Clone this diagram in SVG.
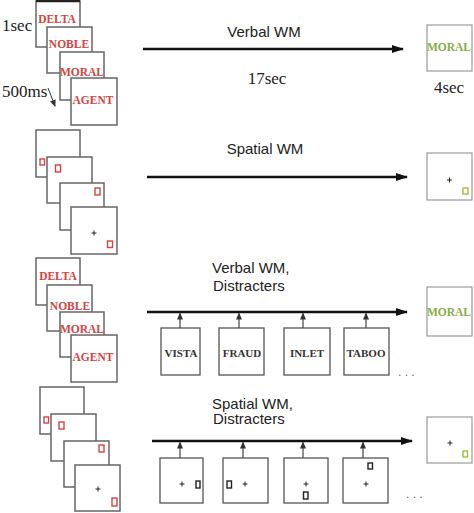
<svg xmlns="http://www.w3.org/2000/svg" width="474" height="513" viewBox="0 0 474 513">
<defs>
<marker id="big" markerWidth="12" markerHeight="10" refX="11" refY="5" orient="auto" markerUnits="userSpaceOnUse">
<path d="M0,1 L12,5 L0,9 Z" fill="#111"/>
</marker>
<marker id="small" markerWidth="7" markerHeight="7" refX="6" refY="3.5" orient="auto" markerUnits="userSpaceOnUse">
<path d="M0,0.5 L7,3.5 L0,6.5 Z" fill="#333"/>
</marker>
</defs>
<style>
.card{fill:#fff;stroke:#666;stroke-width:1.5}
.dcard{fill:#fff;stroke:#555;stroke-width:1.3}
.fcard{fill:#fff;stroke:#999;stroke-width:1.2}
.word{font-family:"Liberation Serif",serif;font-weight:bold;font-size:11.5px;fill:#d2453f;text-anchor:middle}
.dword{font-family:"Liberation Serif",serif;font-weight:bold;font-size:11px;fill:#333;text-anchor:middle}
.gword{font-family:"Liberation Serif",serif;font-weight:bold;font-size:11.5px;fill:#86ad46;text-anchor:middle}
.lab{font-family:"Liberation Sans",Arial,sans-serif;font-size:15px;fill:#222}
.time{font-family:"Liberation Serif",serif;font-size:17px;fill:#222}
.main{stroke:#111;stroke-width:2.6;fill:none;marker-end:url(#big)}
.tick{stroke:#444;stroke-width:1.2;fill:none;marker-end:url(#small)}
.red{fill:none;stroke:#d2453f;stroke-width:1.4}
.grn{fill:none;stroke:#9abf3c;stroke-width:1.4}
.blk{fill:none;stroke:#222;stroke-width:1.4}
.cross{stroke:#222;stroke-width:1;fill:none}
.dots{font-family:"Liberation Sans",sans-serif;font-size:12px;fill:#666}
</style>

<!-- Row 1: verbal WM -->
<g id="row1-stack">
<rect class="card" x="36" y="1" width="44" height="46"/>
<line x1="36" y1="1" x2="80" y2="1" stroke="#222" stroke-width="2.5"/>
<text class="word" x="57" y="23">DELTA</text>
<rect class="card" x="47" y="27" width="45" height="46"/>
<text class="word" x="69" y="48">NOBLE</text>
<rect class="card" x="60" y="52" width="44" height="48"/>
<text class="word" x="82" y="76">MORAL</text>
<rect class="card" x="71" y="78" width="46" height="47"/>
<text class="word" x="93" y="104">AGENT</text>
</g>
<g id="row1-times">
<text class="time" x="2" y="31" font-size="18">1sec</text>
<text class="time" x="2" y="97">500ms</text>
<text class="time" x="267" y="84" text-anchor="middle">17sec</text>
<text class="time" x="449" y="93" text-anchor="middle">4sec</text>
</g>
<g id="row1-final">
<rect class="fcard" x="427" y="25" width="45" height="46"/>
<text class="gword" x="449" y="51">MORAL</text>
</g>

<!-- Row 2: spatial WM -->
<g id="row2-stack">
<rect class="card" x="36" y="130" width="44" height="47"/>
<rect class="red" x="40" y="159" width="4.5" height="6"/>
<rect class="card" x="47" y="157" width="45" height="46"/>
<rect class="red" x="55.5" y="165" width="5" height="7"/>
<rect class="card" x="60" y="183" width="44" height="47"/>
<rect class="red" x="95" y="188" width="5" height="7"/>
<rect class="card" x="71" y="207" width="46" height="47"/>
<path class="cross" d="M91.5,233 H96.5 M94,230.5 V235.5"/>
<rect class="red" x="107.5" y="241" width="5" height="6.5"/>
</g>
<g id="row2-final">
<rect class="fcard" x="427" y="153" width="45" height="47"/>
<path class="cross" d="M447,180 H452 M449.5,177.5 V182.5"/>
<rect class="grn" x="463" y="188" width="5" height="6"/>
</g>

<!-- Row 3: verbal WM distracters -->
<g id="row3-stack">
<rect class="card" x="36" y="258" width="44" height="47"/>
<text class="word" x="58" y="280">DELTA</text>
<rect class="card" x="47" y="285" width="45" height="46"/>
<text class="word" x="70" y="310">NOBLE</text>
<rect class="card" x="60" y="312" width="44" height="45"/>
<text class="word" x="82" y="333">MORAL</text>
<rect class="card" x="71" y="335" width="46" height="47"/>
<text class="word" x="93" y="361">AGENT</text>
</g>
<g id="row3-distracters">
<rect class="dcard" x="161" y="328" width="39" height="47"/>
<text class="dword" x="181" y="357">VISTA</text>
<rect class="dcard" x="219" y="328" width="45" height="47"/>
<text class="dword" x="242" y="357">FRAUD</text>
<rect class="dcard" x="284" y="328" width="46" height="47"/>
<text class="dword" x="307" y="357">INLET</text>
<rect class="dcard" x="344" y="328" width="45" height="47"/>
<text class="dword" x="366" y="357">TABOO</text>
<text class="dots" x="398" y="376">. . .</text>
</g>
<g id="row3-final">
<rect class="fcard" x="427" y="287" width="45" height="49"/>
<text class="gword" x="449" y="316">MORAL</text>
</g>

<!-- Row 4: spatial WM distracters -->
<g id="row4-stack">
<rect class="card" x="40" y="387" width="44" height="47"/>
<rect class="red" x="44" y="417" width="4.5" height="6"/>
<rect class="card" x="51" y="414" width="45" height="47"/>
<rect class="red" x="59" y="422" width="5" height="7"/>
<rect class="card" x="64" y="441" width="45" height="46"/>
<rect class="red" x="99" y="445" width="5" height="7"/>
<rect class="card" x="75" y="465" width="45" height="46"/>
<path class="cross" d="M95.5,489 H100.5 M98,486.5 V491.5"/>
<rect class="red" x="112" y="498" width="5" height="8"/>
</g>
<g id="row4-distracters">
<rect class="dcard" x="160" y="458" width="43" height="45"/>
<path class="cross" d="M179.5,484 H184.5 M182,481.5 V486.5"/>
<rect class="blk" x="196" y="481" width="4" height="7"/>
<rect class="dcard" x="223" y="458" width="45" height="45"/>
<rect class="blk" x="227" y="481" width="4.5" height="7"/>
<path class="cross" d="M242.5,484 H247.5 M245,481.5 V486.5"/>
<rect class="dcard" x="284" y="458" width="44" height="45"/>
<path class="cross" d="M303.5,484 H308.5 M306,481.5 V486.5"/>
<rect class="blk" x="303.5" y="492" width="4.5" height="7"/>
<rect class="dcard" x="343" y="458" width="45" height="45"/>
<rect class="blk" x="368" y="463" width="4.5" height="6"/>
<path class="cross" d="M363.5,484 H368.5 M366,481.5 V486.5"/>
<text class="dots" x="406" y="498">. . .</text>
</g>
<g id="row4-final">
<rect class="fcard" x="427" y="417" width="45" height="46"/>
<path class="cross" d="M447.5,443 H452.5 M450,440.5 V445.5"/>
<rect class="grn" x="463" y="451" width="4.5" height="6"/>
</g>

<!-- Labels -->
<g id="labels">
<text class="lab" x="264" y="36.5" text-anchor="middle">Verbal WM</text>
<text class="lab" x="265" y="153.5" text-anchor="middle">Spatial WM</text>
<text class="lab" x="212" y="272.5">Verbal WM,</text>
<text class="lab" x="213" y="290.5">Distracters</text>
<text class="lab" x="212" y="408.5">Spatial WM,</text>
<text class="lab" x="213" y="424">Distracters</text>
</g>

<!-- Connectors -->
<g id="connectors">
<line class="main" x1="143" y1="49" x2="403" y2="49"/>
<line class="main" x1="147" y1="177" x2="407" y2="177"/>
<line class="main" x1="147" y1="312" x2="407" y2="312"/>
<line class="main" x1="152" y1="441" x2="412" y2="441"/>
<line x1="48" y1="88" x2="55" y2="106" stroke="#333" stroke-width="1" marker-end="url(#small)"/>
<line class="tick" x1="180" y1="328" x2="180" y2="313.5"/>
<line class="tick" x1="239" y1="328" x2="239" y2="313.5"/>
<line class="tick" x1="303" y1="328" x2="303" y2="313.5"/>
<line class="tick" x1="366" y1="328" x2="366" y2="313.5"/>
<line class="tick" x1="180" y1="458" x2="180" y2="442.5"/>
<line class="tick" x1="243" y1="458" x2="243" y2="442.5"/>
<line class="tick" x1="303" y1="458" x2="303" y2="442.5"/>
<line class="tick" x1="363" y1="458" x2="363" y2="442.5"/>
</g>
</svg>
